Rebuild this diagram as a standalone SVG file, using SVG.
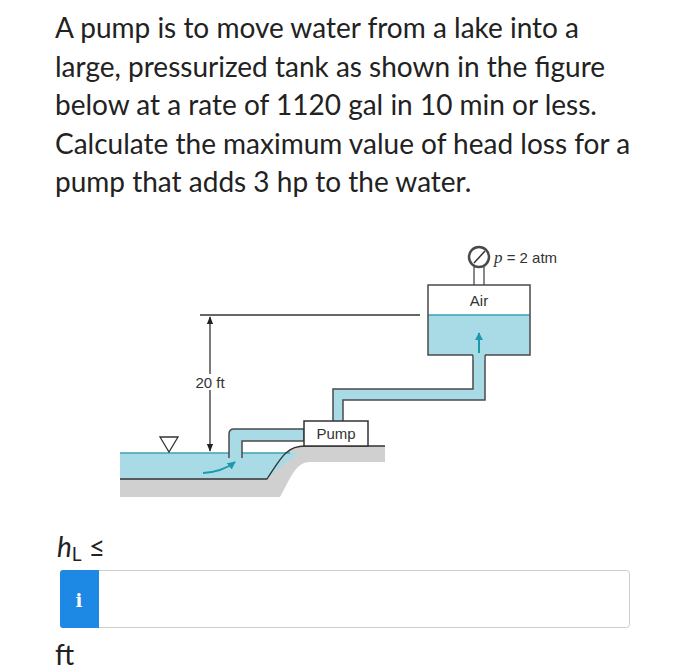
<svg xmlns="http://www.w3.org/2000/svg" width="700" height="672" viewBox="0 0 700 672">
<style>
.q{font-family:Lato,"Open Sans",sans-serif;font-size:28px;fill:#222}
.f{font-family:"Liberation Sans",Arial,sans-serif;font-size:15px;fill:#333}
.w{fill:#a9dbe6;stroke:#4a4a4a;stroke-width:1.5}
.l{stroke:#333;stroke-width:1.3;fill:none}
</style>
<defs>
<marker id="a" viewBox="0 0 10 10" refX="9" refY="5" markerWidth="6" markerHeight="6" orient="auto-start-reverse"><path d="M0,1 L10,5 L0,9 z" fill="#222"/></marker>
<marker id="b" viewBox="0 0 10 10" refX="9" refY="5" markerWidth="4" markerHeight="4" orient="auto"><path d="M0,0 L10,5 L0,10 z" fill="#1a9aaa"/></marker>
</defs>
<rect width="700" height="672" fill="#fff"/>
<g id="question">
<text class="q" x="55" y="38">A pump is to move water from a lake into a</text>
<text class="q" x="55" y="77">large, pressurized tank as shown in the figure</text>
<text class="q" x="55" y="115">below at a rate of 1120 gal in 10 min or less.</text>
<text class="q" x="55" y="154">Calculate the maximum value of head loss for a</text>
<text class="q" x="55" y="192">pump that adds 3 hp to the water.</text>
</g>
<g id="ground">
<path d="M120,479 L267,479 C280,460 285,446 305,446 L385,446 L385,462 L310,462 C295,462 290,480 280,497 L120,497 Z" fill="#d0d0d0"/>
</g>
<g id="lake">
<path d="M120,453 L300,453 C290,458 278,470 267,479 L120,479 Z" fill="#a9dbe6"/>
<path d="M120,453 L290,453" stroke="#3aa3b5" stroke-width="1.5"/>
<path d="M120,479 L267,479 C280,460 285,446 305,446 L385,446" class="l" stroke-width="1.5"/>
<path d="M160,437 L178,437 L169,452 Z" fill="none" stroke="#333" stroke-width="1.3"/>
<path d="M203,473 Q222,472 235,462" fill="none" stroke="#1a9aaa" stroke-width="2" marker-end="url(#b)"/>
</g>
<g id="pipes">
<path d="M229,458 L229,434 Q229,429 234,429 L304,429 L304,441 L242,441 L242,458" class="w"/>
<path d="M333,421 L333,389 L473,389 L473,354 L485,354 L485,400 L343,400 L343,421" class="w"/>
</g>
<g id="tank">
<rect x="428" y="285" width="102" height="70" fill="#fff"/>
<rect x="428" y="315" width="102" height="40" fill="#a9dbe6"/>
<rect x="473.8" y="350" width="10.4" height="10" fill="#a9dbe6"/>
<path d="M428,315 L530,315" stroke="#3aa3b5" stroke-width="1.5"/>
<path d="M473,355 L428,355 L428,285 L530,285 L530,355 L485,355" fill="none" stroke="#4a4a4a" stroke-width="1.5"/>
<text class="f" x="479" y="306" text-anchor="middle">Air</text>
<path d="M479,353 L479,333" stroke="#1a9aaa" stroke-width="2" marker-end="url(#b)"/>
</g>
<g id="gauge">
<path d="M474,285 L474,267 M484,285 L484,267" stroke="#4a4a4a" stroke-width="1.3"/>
<circle cx="479" cy="257" r="10" fill="#fff" stroke="#4a4a4a" stroke-width="2.5"/>
<path d="M474,263 L485,251" stroke="#333" stroke-width="1.5"/>
<text class="f" x="494" y="263"><tspan font-family="Liberation Serif,serif" font-style="italic" font-size="17">p</tspan> = 2 atm</text>
</g>
<g id="pump">
<rect x="304" y="421" width="64" height="25" fill="#fff" stroke="#333" stroke-width="1.5"/>
<text class="f" x="336" y="439" text-anchor="middle">Pump</text>
</g>
<g id="dimension">
<path d="M200,315 L420,315" class="l"/>
<path d="M210,317 L210,451" class="l" marker-start="url(#a)" marker-end="url(#a)"/>
<rect x="190" y="374" width="40" height="16" fill="#fff"/>
<text class="f" x="210" y="388" text-anchor="middle">20 ft</text>
</g>
<g id="answer">
<text class="q" x="57" y="557"><tspan font-style="italic">h</tspan><tspan font-size="19" dy="4">L</tspan><tspan dy="-4"> ≤</tspan></text>
<rect x="60.5" y="570.5" width="569" height="57" rx="3" fill="#fff" stroke="#ccc"/>
<path d="M63,570 L99,570 L99,628 L63,628 Q60,628 60,625 L60,573 Q60,570 63,570 Z" fill="#1e88e5"/>
<text x="79" y="607" text-anchor="middle" font-family="DejaVu Serif,serif" font-weight="bold" font-size="18" fill="#fff">i</text>
<text class="q" x="55" y="665">ft</text>
</g>
</svg>
